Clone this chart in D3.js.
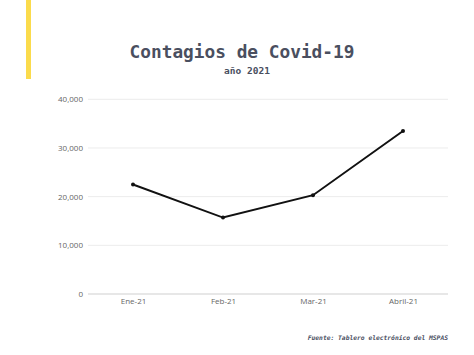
<!DOCTYPE html>
<html>
<head>
  <meta charset="UTF-8">
  <style>
    body { margin: 0; background: #fff; }
  </style>
</head>
<script type='text/javascript' src='https://d3js.org/d3.v7.min.js'></script>
<body>
<script>
var width = 474, height = 355;

// data
var months = ["Ene-21", "Feb-21", "Mar-21", "Abril-21"];
var cases = [22500, 15700, 20300, 33500];
var yTicks = [0, 10000, 20000, 30000, 40000];

var svg = d3.select('body').append('svg').attr('width', width).attr('height', height);

// yellow accent bar
svg.append('rect').attr('x', 26).attr('y', 0).attr('width', 5).attr('height', 79).attr('fill', '#fbdb4c');

// titles
svg.append('text').attr('x', 242).attr('y', 58).attr('text-anchor', 'middle')
  .style('font-family', 'DejaVu Sans Mono').style('font-weight', 'bold').style('font-size', '17.8px')
  .attr('fill', '#4a4f5f').text('Contagios de Covid-19');
svg.append('text').attr('x', 247).attr('y', 74).attr('text-anchor', 'middle')
  .style('font-family', 'DejaVu Sans Mono').style('font-weight', 'bold').style('font-size', '9.5px')
  .attr('fill', '#4a4f5f').text('año 2021');

var x = d3.scalePoint().domain(months).range([88, 448]).padding(0.5);
var y = d3.scaleLinear().domain([0, 40000]).range([294, 99.3]);

// gridlines
svg.append('g').selectAll('line').data(yTicks).join('line')
  .attr('x1', 88).attr('x2', 448)
  .attr('y1', function(d) { return y(d) }).attr('y2', function(d) { return y(d) })
  .attr('stroke', function(d) { return d === 0 ? '#cfcfcf' : '#ececec' })
  .attr('stroke-width', 1);

// y axis labels
var yAxis = d3.axisLeft(y).tickValues(yTicks).tickSize(0).tickPadding(0).tickFormat(d3.format(','));
svg.append('g').attr('transform', 'translate(83,0)').call(yAxis)
  .call(function(g) { g.select('.domain').remove() })
  .selectAll('text').style('font-family', 'Open Sans').style('font-size', '8px').attr('fill', '#666');

// x axis labels
var xAxis = d3.axisBottom(x).tickSize(0).tickPadding(0);
svg.append('g').attr('transform', 'translate(0,298)').call(xAxis)
  .call(function(g) { g.select('.domain').remove() })
  .selectAll('text').style('font-family', 'Open Sans').style('font-size', '8px').attr('fill', '#666');

// line
var line = d3.line().x(function(d, i) { return x(months[i]) }).y(function(d) { return y(d) });
svg.append('path').datum(cases).attr('d', line)
  .attr('fill', 'none').attr('stroke', '#111').attr('stroke-width', 2);
svg.append('g').selectAll('circle').data(cases).join('circle')
  .attr('cx', function(d, i) { return x(months[i]) })
  .attr('cy', function(d) { return y(d) })
  .attr('r', 2).attr('fill', '#111');

// source
svg.append('text').attr('x', 448).attr('y', 340).attr('text-anchor', 'end')
  .style('font-family', 'DejaVu Sans Mono').style('font-style', 'italic').style('font-weight', 'bold')
  .style('font-size', '6.3px').attr('fill', '#4a4f5f').text('Fuente: Tablero electrónico del MSPAS');
</script>
</body>
</html>
